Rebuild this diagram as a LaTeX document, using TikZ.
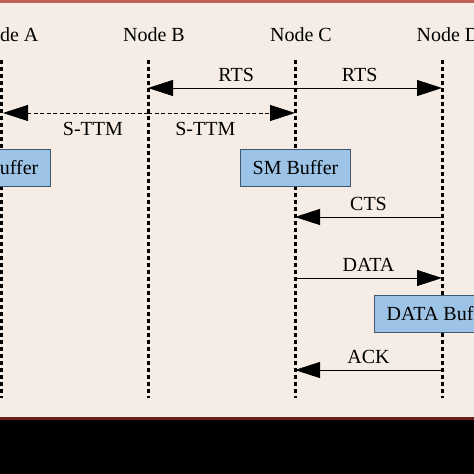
\documentclass[tikz,border=0pt]{standalone}
\usepackage{fontspec}
\setmainfont{Liberation Serif}
\usetikzlibrary{arrows.meta}

\definecolor{paper}{HTML}{F5EDE5}
\definecolor{bufblue}{HTML}{9DC3E6}
\definecolor{bufedge}{HTML}{3F5872}
\definecolor{topred}{HTML}{C0605A}
\definecolor{botred}{HTML}{6E1E1E}

\tikzset{
    lifeline/.style={line width=3pt, dash pattern=on 4pt off 3pt},
    msg/.style={line width=0.8pt, -{Triangle[length=25pt,width=16pt]}},
    sttm/.style={msg, dash pattern=on 4pt off 2.5pt},
    buffer/.style={draw=bufedge, fill=bufblue, line width=0.8pt,
        minimum height=37pt, inner xsep=12pt, font=\fontsize{20}{24}\selectfont},
    lbl/.style={font=\fontsize{20}{24}\selectfont}
}

\begin{document}
\begin{tikzpicture}[x=1pt,y=-1pt]
    \useasboundingbox (0,0) rectangle (474,474);
    \fill[paper] (0,0) rectangle (474,418);
    \fill[topred] (0,0) rectangle (474,2.5);
    \fill[botred] (0,417) rectangle (474,420);
    \fill[black] (0,420) rectangle (474,474);

    % lifelines
    \foreach \n/\x in {A/1,B/148,C/295,D/442} {
        \node[lbl] (head\n) at (\x+6,35) {Node \n};
        \coordinate (top\n) at (\x,60);
        \coordinate (bot\n) at (\x,398);
        \draw[lifeline] (top\n) -- (bot\n);
    }

    % points on the lifelines
    \coordinate (rtsB) at (148,88);
    \coordinate (rtsC) at (295,88);
    \coordinate (rtsD) at (442,88);
    \coordinate (sttmA) at (3,113);
    \coordinate (sttmB) at (148,113);
    \coordinate (sttmC) at (295,113);
    \coordinate (ctsC) at (295,217);
    \coordinate (ctsD) at (442,217);
    \coordinate (dataC) at (295,278);
    \coordinate (dataD) at (442,278);
    \coordinate (ackC) at (295,370);
    \coordinate (ackD) at (442,370);

    % messages
    \draw[msg] (rtsC) -- (rtsB) node[lbl, pos=0.4, above=3pt] {RTS};
    \draw[msg] (rtsC) -- (rtsD) node[lbl, pos=0.44, above=3pt] {RTS};
    \draw[sttm] (sttmB) -- (sttmA) node[lbl, pos=0.38, below=6pt] {S-TTM};
    \draw[sttm] (sttmB) -- (sttmC) node[lbl, pos=0.39, below=6pt] {S-TTM};
    \draw[msg] (ctsD) -- (ctsC) node[lbl, midway, above=3pt] {CTS};
    \draw[msg] (dataC) -- (dataD) node[lbl, midway, above=3pt] {DATA};
    \draw[msg] (ackD) -- (ackC) node[lbl, midway, above=3pt] {ACK};

    % buffers
    \node[buffer] (bufA) at (-4.5,167.5) {SM Buffer};
    \node[buffer] (bufC) at (295.5,167.5) {SM Buffer};
    \node[buffer] (bufD) at (441,314) {DATA Buffer};
\end{tikzpicture}
\end{document}
